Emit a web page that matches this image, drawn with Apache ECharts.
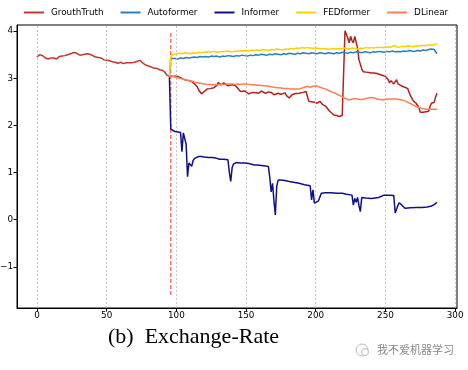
<!DOCTYPE html>
<html><head><meta charset="utf-8">
<script src="https://cdn.jsdelivr.net/npm/echarts@6/dist/echarts.min.js"></script>
<style>html,body{margin:0;padding:0;background:#fff}#c{width:468px;height:370px}</style>
</head><body><div id="c"></div>
<script>
const xTicks = [0, 50, 100, 150, 200, 250, 300];
const yTicks = [-1, 0, 1, 2, 3, 4];
const seriesNames = ['GrouthTruth', 'Autoformer', 'Informer', 'FEDformer', 'DLinear'];
const splitX = 96;
const splitRange = [-1.6, 4.0];

const gtInput = [[0,3.45],[1,3.47],[2,3.50],[3,3.49],[4,3.48],[5,3.46],[6,3.43],[7,3.44],[8,3.41],[9,3.41],[10,3.43],[11,3.42],[12,3.43],[13,3.40],[14,3.41],[15,3.44],[16,3.46],[17,3.45],[18,3.47],[19,3.47],[20,3.48],[21,3.49],[22,3.50],[23,3.50],[24,3.52],[25,3.52],[26,3.54],[27,3.57],[28,3.54],[29,3.50],[30,3.50],[31,3.49],[32,3.49],[33,3.50],[34,3.51],[35,3.51],[36,3.52],[37,3.51],[38,3.51],[39,3.51],[40,3.48],[41,3.45],[42,3.45],[43,3.44],[44,3.44],[45,3.43],[46,3.43],[47,3.41],[48,3.39],[49,3.39],[50,3.38],[51,3.37],[52,3.37],[53,3.36],[54,3.35],[55,3.34],[56,3.34],[57,3.33],[58,3.32],[59,3.33],[60,3.34],[61,3.33],[62,3.31],[63,3.31],[64,3.33],[65,3.34],[66,3.33],[67,3.32],[68,3.33],[69,3.34],[70,3.34],[71,3.35],[72,3.36],[73,3.37],[74,3.38],[75,3.35],[76,3.32],[77,3.30],[78,3.28],[79,3.27],[80,3.26],[81,3.25],[82,3.24],[83,3.22],[84,3.21],[85,3.20],[86,3.21],[87,3.19],[88,3.18],[89,3.18],[90,3.17],[91,3.17],[92,3.12],[93,3.07],[94,3.05],[95,3.04]];

const gtPred = [[95,3.04],[96,3.03],[98,3.04],[100,3.05],[101,3.04],[103,3.01],[105,2.98],[107,2.96],[109,2.95],[111,2.93],[113,2.88],[115,2.82],[116,2.75],[118,2.67],[119,2.69],[120,2.72],[122,2.77],[124,2.78],[125,2.79],[127,2.80],[128,2.81],[129,2.85],[130,2.91],[131,2.88],[132,2.86],[133,2.89],[134,2.90],[135,2.87],[137,2.84],[138,2.86],[140,2.86],[142,2.85],[143,2.84],[144,2.79],[146,2.72],[147,2.75],[149,2.73],[150,2.72],[152,2.67],[153,2.65],[155,2.70],[157,2.69],[159,2.68],[161,2.73],[162,2.74],[164,2.68],[166,2.71],[167,2.75],[168,2.70],[170,2.65],[171,2.67],[173,2.68],[175,2.66],[176,2.65],[178,2.69],[179,2.63],[181,2.58],[182,2.62],[183,2.65],[185,2.67],[188,2.68],[191,2.70],[193,2.72],[194,2.62],[195,2.51],[197,2.50],[199,2.49],[201,2.47],[202,2.46],[203,2.51],[204,2.48],[205,2.44],[207,2.41],[208,2.40],[210,2.30],[211,2.27],[213,2.22],[215,2.21],[217,2.19],[218,2.17],[219,2.21],[221,4.01],[222,3.93],[223,3.85],[224,3.75],[225,3.89],[226,3.80],[227,3.75],[228,3.89],[229,3.85],[230,3.64],[231,3.39],[232,3.35],[233,3.20],[234,3.14],[236,3.13],[238,3.12],[240,3.11],[242,3.11],[244,3.10],[246,3.08],[248,3.06],[250,3.04],[251,3.00],[252,2.97],[253,2.90],[254,2.95],[255,2.97],[256,2.88],[257,2.92],[258,2.97],[259,2.88],[260,2.86],[262,2.83],[264,2.81],[266,2.78],[267,2.70],[268,2.63],[270,2.52],[272,2.47],[273,2.44],[274,2.38],[275,2.28],[277,2.28],[279,2.29],[281,2.30],[282,2.40],[283,2.47],[284,2.51],[285,2.49],[286,2.60],[287,2.68]];

const autoformer = [[95,3.04],[96,3.42],[97,3.40],[99,3.42],[101,3.41],[103,3.43],[105,3.42],[107,3.44],[109,3.43],[111,3.44],[113,3.45],[115,3.44],[117,3.46],[119,3.45],[121,3.46],[123,3.45],[125,3.47],[127,3.46],[129,3.47],[131,3.45],[133,3.47],[135,3.46],[137,3.48],[139,3.47],[141,3.46],[143,3.48],[145,3.47],[147,3.49],[149,3.48],[151,3.47],[153,3.49],[155,3.48],[157,3.50],[159,3.49],[161,3.51],[163,3.50],[165,3.49],[167,3.51],[169,3.50],[171,3.52],[173,3.51],[175,3.50],[177,3.52],[179,3.51],[181,3.53],[183,3.52],[185,3.51],[187,3.53],[189,3.52],[191,3.54],[193,3.53],[195,3.52],[197,3.54],[199,3.53],[201,3.52],[203,3.54],[205,3.53],[207,3.52],[209,3.54],[211,3.53],[213,3.52],[215,3.54],[217,3.53],[219,3.55],[221,3.54],[223,3.53],[225,3.55],[227,3.54],[229,3.56],[231,3.55],[233,3.54],[235,3.56],[237,3.55],[239,3.54],[241,3.56],[243,3.55],[245,3.57],[247,3.56],[249,3.55],[251,3.57],[253,3.56],[255,3.58],[257,3.56],[259,3.57],[261,3.56],[263,3.58],[265,3.57],[267,3.59],[269,3.58],[271,3.57],[273,3.59],[275,3.58],[277,3.60],[279,3.59],[281,3.61],[283,3.62],[284,3.58],[285,3.61],[286,3.57],[287,3.52]];

const informer = [[95,3.02],[96,1.92],[97,1.89],[99,1.87],[101,1.86],[103,1.85],[104,1.44],[105,1.84],[106,1.80],[107,1.60],[108,0.91],[109,1.20],[110,1.18],[111,1.13],[112,1.25],[113,1.30],[114,1.34],[116,1.34],[118,1.34],[120,1.33],[123,1.32],[126,1.32],[128,1.31],[131,1.28],[134,1.28],[137,1.27],[138,1.00],[139,0.81],[140,1.10],[141,1.18],[143,1.21],[146,1.20],[149,1.20],[152,1.19],[156,1.16],[158,1.16],[161,1.15],[164,1.14],[166,1.13],[167,0.90],[168,0.59],[169,0.77],[170,0.40],[171,0.10],[172,0.70],[173,0.84],[175,0.84],[178,0.83],[181,0.81],[185,0.79],[188,0.77],[192,0.74],[196,0.72],[197,0.42],[198,0.63],[199,0.35],[200,0.38],[202,0.40],[204,0.56],[207,0.57],[211,0.57],[215,0.56],[219,0.56],[222,0.54],[226,0.52],[227,0.31],[228,0.45],[229,0.37],[230,0.47],[231,0.30],[232,0.17],[233,0.47],[236,0.46],[240,0.45],[245,0.47],[249,0.52],[253,0.52],[256,0.51],[257,0.14],[258,0.22],[259,0.31],[260,0.36],[261,0.37],[262,0.30],[264,0.24],[268,0.25],[272,0.26],[276,0.26],[280,0.27],[283,0.29],[285,0.32],[287,0.37]];

const fedformer = [[95,3.04],[96,3.44],[97,3.50],[98,3.51],[100,3.52],[102,3.53],[104,3.52],[106,3.54],[108,3.53],[110,3.52],[112,3.54],[114,3.53],[116,3.55],[118,3.54],[120,3.55],[122,3.56],[124,3.55],[126,3.57],[128,3.56],[130,3.55],[132,3.57],[134,3.56],[136,3.58],[138,3.57],[140,3.56],[142,3.58],[144,3.57],[146,3.59],[148,3.58],[150,3.59],[152,3.58],[154,3.60],[156,3.59],[158,3.60],[160,3.59],[162,3.61],[164,3.60],[166,3.59],[168,3.61],[170,3.60],[172,3.62],[174,3.61],[176,3.60],[178,3.62],[180,3.61],[182,3.63],[184,3.62],[186,3.64],[188,3.63],[190,3.65],[192,3.64],[194,3.65],[196,3.64],[198,3.63],[200,3.64],[202,3.63],[204,3.62],[206,3.63],[208,3.62],[210,3.61],[212,3.63],[214,3.62],[216,3.63],[218,3.62],[220,3.64],[222,3.63],[224,3.62],[226,3.64],[228,3.63],[230,3.62],[232,3.64],[234,3.63],[236,3.65],[238,3.64],[240,3.65],[242,3.64],[244,3.66],[246,3.65],[248,3.66],[250,3.65],[252,3.67],[254,3.66],[256,3.69],[258,3.67],[260,3.66],[262,3.68],[264,3.67],[266,3.69],[268,3.68],[270,3.67],[272,3.69],[274,3.68],[276,3.70],[278,3.69],[280,3.70],[282,3.71],[284,3.70],[286,3.72],[287,3.74]];

const dlinear = [[95,3.04],[96,3.05],[98,3.03],[100,3.02],[102,3.00],[104,2.99],[106,2.97],[108,2.96],[110,2.94],[112,2.93],[114,2.91],[116,2.90],[118,2.89],[120,2.88],[122,2.87],[124,2.87],[126,2.86],[128,2.86],[130,2.86],[132,2.87],[134,2.87],[136,2.88],[138,2.88],[140,2.88],[142,2.87],[144,2.88],[146,2.87],[148,2.88],[150,2.88],[152,2.87],[154,2.86],[156,2.86],[158,2.85],[160,2.85],[162,2.84],[164,2.84],[166,2.83],[168,2.82],[170,2.81],[172,2.80],[174,2.80],[176,2.79],[178,2.78],[180,2.78],[182,2.77],[184,2.77],[186,2.77],[188,2.77],[190,2.79],[192,2.81],[194,2.83],[196,2.81],[198,2.83],[200,2.84],[202,2.82],[204,2.80],[206,2.78],[208,2.76],[210,2.73],[212,2.70],[214,2.68],[216,2.65],[218,2.62],[220,2.59],[222,2.56],[224,2.54],[226,2.56],[228,2.57],[230,2.56],[232,2.55],[234,2.55],[236,2.57],[238,2.58],[240,2.59],[242,2.58],[244,2.56],[246,2.55],[248,2.54],[250,2.55],[252,2.56],[254,2.56],[256,2.56],[258,2.56],[260,2.55],[262,2.54],[264,2.52],[266,2.49],[268,2.46],[270,2.43],[272,2.40],[274,2.38],[276,2.36],[278,2.35],[280,2.34],[282,2.34],[284,2.34],[286,2.34],[287,2.34]];

const colors = {
  GrouthTruth: '#b22222', GrouthTruthInput: '#c0392b',
  Autoformer: '#2a7fc4', Informer: '#10108c', FEDformer: '#ffd000', DLinear: '#ff7f55'
};
const fontTick = 'DejaVu Sans';

const chart = echarts.init(document.getElementById('c'), null, {renderer: 'canvas'});

function lineSeries(name, data, color, z) {
  return {
    name: name, type: 'line', data: data, symbol: 'none', smooth: false,
    lineStyle: {color: color, width: 1.5}, itemStyle: {color: color},
    z: z, silent: true, animation: false, clip: true
  };
}

const option = {
  animation: false,
  backgroundColor: '#fff',
  grid: {left: 17, right: 11, top: 25, bottom: 62, show: true, borderColor: '#000', borderWidth: 1,
    backgroundColor: 'transparent', containLabel: false, outerBoundsMode: 'none'},
  legend: {
    data: seriesNames, top: 3, left: 19, itemWidth: 20, itemHeight: 2, itemGap: 17, icon: 'rect',
    textStyle: {fontFamily: fontTick, fontSize: 8.8, color: '#000', padding: [0,0,0,2]},
    selectedMode: false
  },
  xAxis: {
    type: 'value', min: -14.35, max: 301.35,
    axisLine: {show: true, onZero: false, lineStyle: {color: '#000', width: 1}},
    axisTick: {show: true, length: 3.5, customValues: xTicks, lineStyle: {color: '#000'}},
    axisLabel: {customValues: xTicks, fontFamily: fontTick, fontSize: 8.8, color: '#000', margin: 3},
    splitLine: {show: false}
  },
  yAxis: {
    type: 'value', min: -1.875, max: 4.13,
    axisLine: {show: true, onZero: false, lineStyle: {color: '#000', width: 1}},
    axisTick: {show: true, length: 3.5, customValues: yTicks, lineStyle: {color: '#000'}},
    axisLabel: {customValues: yTicks, fontFamily: fontTick, fontSize: 8.8, color: '#000', margin: 4,
      formatter: v => String(v).replace('-', '\u2212')},
    splitLine: {show: false}
  },
  series: [
    {
      type: 'line', data: [[splitX, splitRange[0]], [splitX, splitRange[1]]], symbol: 'none',
      lineStyle: {color: '#ff3030', width: 1, type: [4, 2]}, z: 1, silent: true,
      markLine: {
        silent: true, symbol: 'none', label: {show: false},
        lineStyle: {color: '#b8b8b8', width: 0.8, type: [2, 2]},
        data: xTicks.map(v => ({xAxis: v}))
      }
    },
    lineSeries('GrouthTruth', gtInput, colors.GrouthTruthInput, 3),
    lineSeries('GrouthTruth', gtPred, colors.GrouthTruth, 3),
    lineSeries('Autoformer', autoformer, colors.Autoformer, 4),
    lineSeries('Informer', informer, colors.Informer, 5),
    lineSeries('FEDformer', fedformer, colors.FEDformer, 6),
    lineSeries('DLinear', dlinear, colors.DLinear, 7)
  ],
  graphic: [
    {type: 'text', left: 108, top: 326, silent: true,
     style: {text: '(b)  Exchange-Rate', fontFamily: 'Liberation Serif', fontSize: 22, fill: '#000'}},
    {type: 'circle', shape: {cx: 362, cy: 350, r: 6}, style: {fill: 'none', stroke: '#bbb', lineWidth: 1}, silent: true},
    {type: 'circle', shape: {cx: 365, cy: 352, r: 3.5}, style: {fill: '#fff', stroke: '#bbb', lineWidth: 1}, silent: true},
    {type: 'text', left: 377, top: 344, silent: true,
     style: {text: '我不爱机器学习', fontFamily: 'Noto Sans CJK SC', fontSize: 11, fill: '#8a8a8a'}}
  ]
};
chart.setOption(option);
</script>
</body></html>
